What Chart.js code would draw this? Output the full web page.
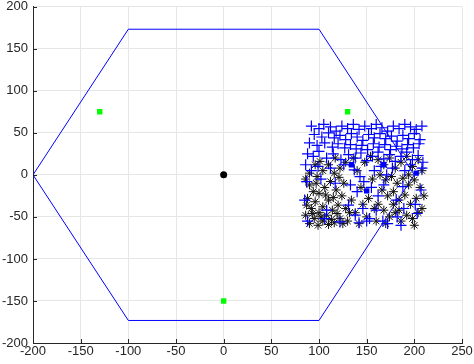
<!DOCTYPE html>
<html>
<head>
<meta charset="utf-8">
<script src="https://cdn.jsdelivr.net/npm/chart.js@4/dist/chart.umd.min.js"></script>
<style>
  html, body { margin: 0; padding: 0; background: #fff; }
  #wrap { width: 474px; height: 364px; }
</style>
</head>
<body>
<div id="wrap"><canvas id="plot"></canvas></div>
<script>
// hexagon cell outline
const hexagon = [[200, 0], [100, 173.2], [-100, 173.2], [-200, 0], [-100, -173.2], [100, -173.2], [200, 0]];
const centre = [[0, 0]];
const greenSites = [[-130, 75], [130, 75], [0, -150]];
const blueSites = [[134, 12], [168, 12], [150, -19], [202, 2]];

// blue "+" markers
const plusPts = [
    [92, 58], [100, 55], [105, 60], [112, 57], [118, 52], [124, 58], [130, 55], [136, 60], [142, 54], [148, 58],
    [155, 55], [160, 60], [166, 56], [172, 52], [178, 58], [184, 55], [190, 60], [196, 57], [202, 54], [208, 58],
    [95, 48], [103, 45], [110, 50], [116, 44], [122, 47], [128, 42], [134, 49], [140, 45], [146, 41], [152, 48],
    [158, 44], [164, 49], [170, 43], [176, 46], [182, 40], [188, 47], [194, 43], [200, 49], [206, 42],
    [90, 38], [98, 35], [106, 38], [114, 33], [120, 37], [127, 32], [133, 36], [139, 31], [145, 35], [151, 30],
    [157, 37], [163, 33], [169, 36], [175, 30], [181, 34], [187, 31], [193, 36], [199, 32], [205, 37],
    [88, 25], [94, 22], [100, 28], [108, 20], [115, 25], [123, 18], [131, 24], [138, 20], [144, 26], [150, 17],
    [156, 22], [162, 27], [168, 19], [174, 24], [180, 16], [186, 22], [192, 27], [198, 18], [204, 23], [209, 15],
    [86, 12], [92, 5], [99, 10], [112, 8], [126, 12], [137, 6], [143, -2], [158, 5],
    [165, 10], [171, 0], [177, 8], [190, 5], [196, 12], [208, 8],
    [87, -8], [102, -5], [117, -10], [133, -12], [140, -20], [147, -8], [155, -15],
    [162, -25], [168, -12], [181, -30], [188, -14], [201, -35], [207, -18],
    [85, -30], [108, -42], [131, -36], [138, -48], [146, -40], [153, -52],
    [160, -42], [167, -55], [182, -50], [189, -40], [203, -46],
    [88, -55], [106, -52], [122, -56], [142, -57], [150, -55], [172, -58], [186, -60]
];

// black "*" markers
const starPts = [
    [86, -5], [90, -12], [94, -20], [88, -28], [96, -32], [92, -40], [100, -45], [86, -48], [95, -52], [104, -55],
    [90, -58], [110, -59], [99, -60], [116, -57], [122, -52], [108, -48], [114, -42], [120, -36], [104, -38], [110, -30],
    [100, -22], [106, -15], [112, -8], [118, -18], [124, -25], [128, -40], [130, -55], [126, -10], [134, -30], [98, -2],
    [104, 5], [110, 12], [116, 2], [122, 8], [128, 15], [96, 12], [90, 2], [87, -36], [102, -50], [113, -53],
    [119, -46], [125, -58], [93, -46], [107, -24], [115, -27], [97, -10], [132, -45], [121, -3], [101, 16], [117, 20],
    [138, -45], [142, -58], [146, -35], [150, -50], [144, -15], [152, -28], [156, -5], [140, 5], [148, 15], [158, -40],
    [136, 20], [154, 22],
    [162, 18], [168, 12], [174, 20], [180, 8], [186, 15], [192, 22], [198, 10], [204, 18], [208, 5], [164, 0],
    [170, -6], [176, -2], [182, -10], [188, -4], [194, -12], [200, -6], [206, -15], [166, -18], [172, -25], [178, -20],
    [184, -30], [190, -24], [196, -35], [202, -28], [208, -40], [162, -35], [168, -42], [174, -50], [180, -45], [186, -55],
    [192, -48], [198, -52], [204, -45], [160, -55], [170, -58], [210, -25], [200, -60], [178, -35], [194, 0], [184, -42]
];

const xTicks = [-200, -150, -100, -50, 0, 50, 100, 150, 200, 250];
const yTicks = [-200, -150, -100, -50, 0, 50, 100, 150, 200];

const toXY = arr => arr.map(p => ({ x: p[0], y: p[1] }));

// MATLAB-style inward tick marks
const inwardTicks = {
    id: "inwardTicks",
    afterDraw(chart) {
        const { ctx, chartArea: a, scales } = chart;
        ctx.save();
        ctx.strokeStyle = "#262626";
        ctx.lineWidth = 1;
        ctx.beginPath();
        xTicks.forEach(v => {
            const px = Math.round(scales.x.getPixelForValue(v)) + 0.5;
            ctx.moveTo(px, a.bottom);
            ctx.lineTo(px, a.bottom - 4);
        });
        yTicks.forEach(v => {
            const py = Math.round(scales.y.getPixelForValue(v)) + 0.5;
            ctx.moveTo(a.left, py);
            ctx.lineTo(a.left + 4, py);
        });
        ctx.stroke();
        ctx.restore();
    }
};

Chart.defaults.font.family = "'Liberation Sans', Arial, sans-serif";
Chart.defaults.font.size = 13;
Chart.defaults.color = "#262626";

new Chart(document.getElementById("plot"), {
    type: "scatter",
    data: {
        datasets: [
            {
                data: toXY(hexagon), showLine: true, borderColor: "#0000ff", borderWidth: 1,
                pointRadius: 0, fill: false, order: 6
            },
            {
                data: toXY(starPts), pointStyle: "star", pointRadius: 4.5, borderColor: "#111",
                borderWidth: 1, backgroundColor: "#000", order: 5
            },
            {
                data: toXY(plusPts), pointStyle: "cross", pointRadius: 5.5, borderColor: "#0000ff",
                borderWidth: 1.2, order: 4
            },
            {
                data: toXY(centre), pointStyle: "circle", pointRadius: 3.5, backgroundColor: "#000",
                borderColor: "#000", borderWidth: 0, order: 3
            },
            {
                data: toXY(greenSites), pointStyle: "rect", pointRadius: 3.8, backgroundColor: "#00ff00",
                borderColor: "#00ff00", borderWidth: 0, order: 2
            },
            {
                data: toXY(blueSites), pointStyle: "rect", pointRadius: 3.8, backgroundColor: "#0000ff",
                borderColor: "#0000ff", borderWidth: 0, order: 1
            }
        ]
    },
    options: {
        responsive: true,
        maintainAspectRatio: false,
        animation: false,
        events: [],
        layout: { padding: { top: 5, right: 12, left: 0, bottom: 0 } },
        plugins: { legend: { display: false }, tooltip: { enabled: false } },
        scales: {
            x: {
                type: "linear", min: -200, max: 250,
                afterBuildTicks: s => { s.ticks = xTicks.map(v => ({ value: v })); },
                afterFit: s => { s.height = 21; s.paddingLeft = 0; s.paddingRight = 0; },
                ticks: { padding: 1, maxRotation: 0, autoSkip: false },
                grid: { color: "#e6e6e6", drawTicks: false },
                border: { color: "#262626", width: 1 }
            },
            y: {
                type: "linear", min: -200, max: 200,
                afterBuildTicks: s => { s.ticks = yTicks.map(v => ({ value: v })); },
                afterFit: s => { s.width = 33; s.paddingTop = 0; s.paddingBottom = 0; },
                ticks: { padding: 5, autoSkip: false },
                grid: { color: "#e6e6e6", drawTicks: false },
                border: { color: "#262626", width: 1 }
            }
        }
    },
    plugins: [inwardTicks]
});
</script>
</body>
</html>
